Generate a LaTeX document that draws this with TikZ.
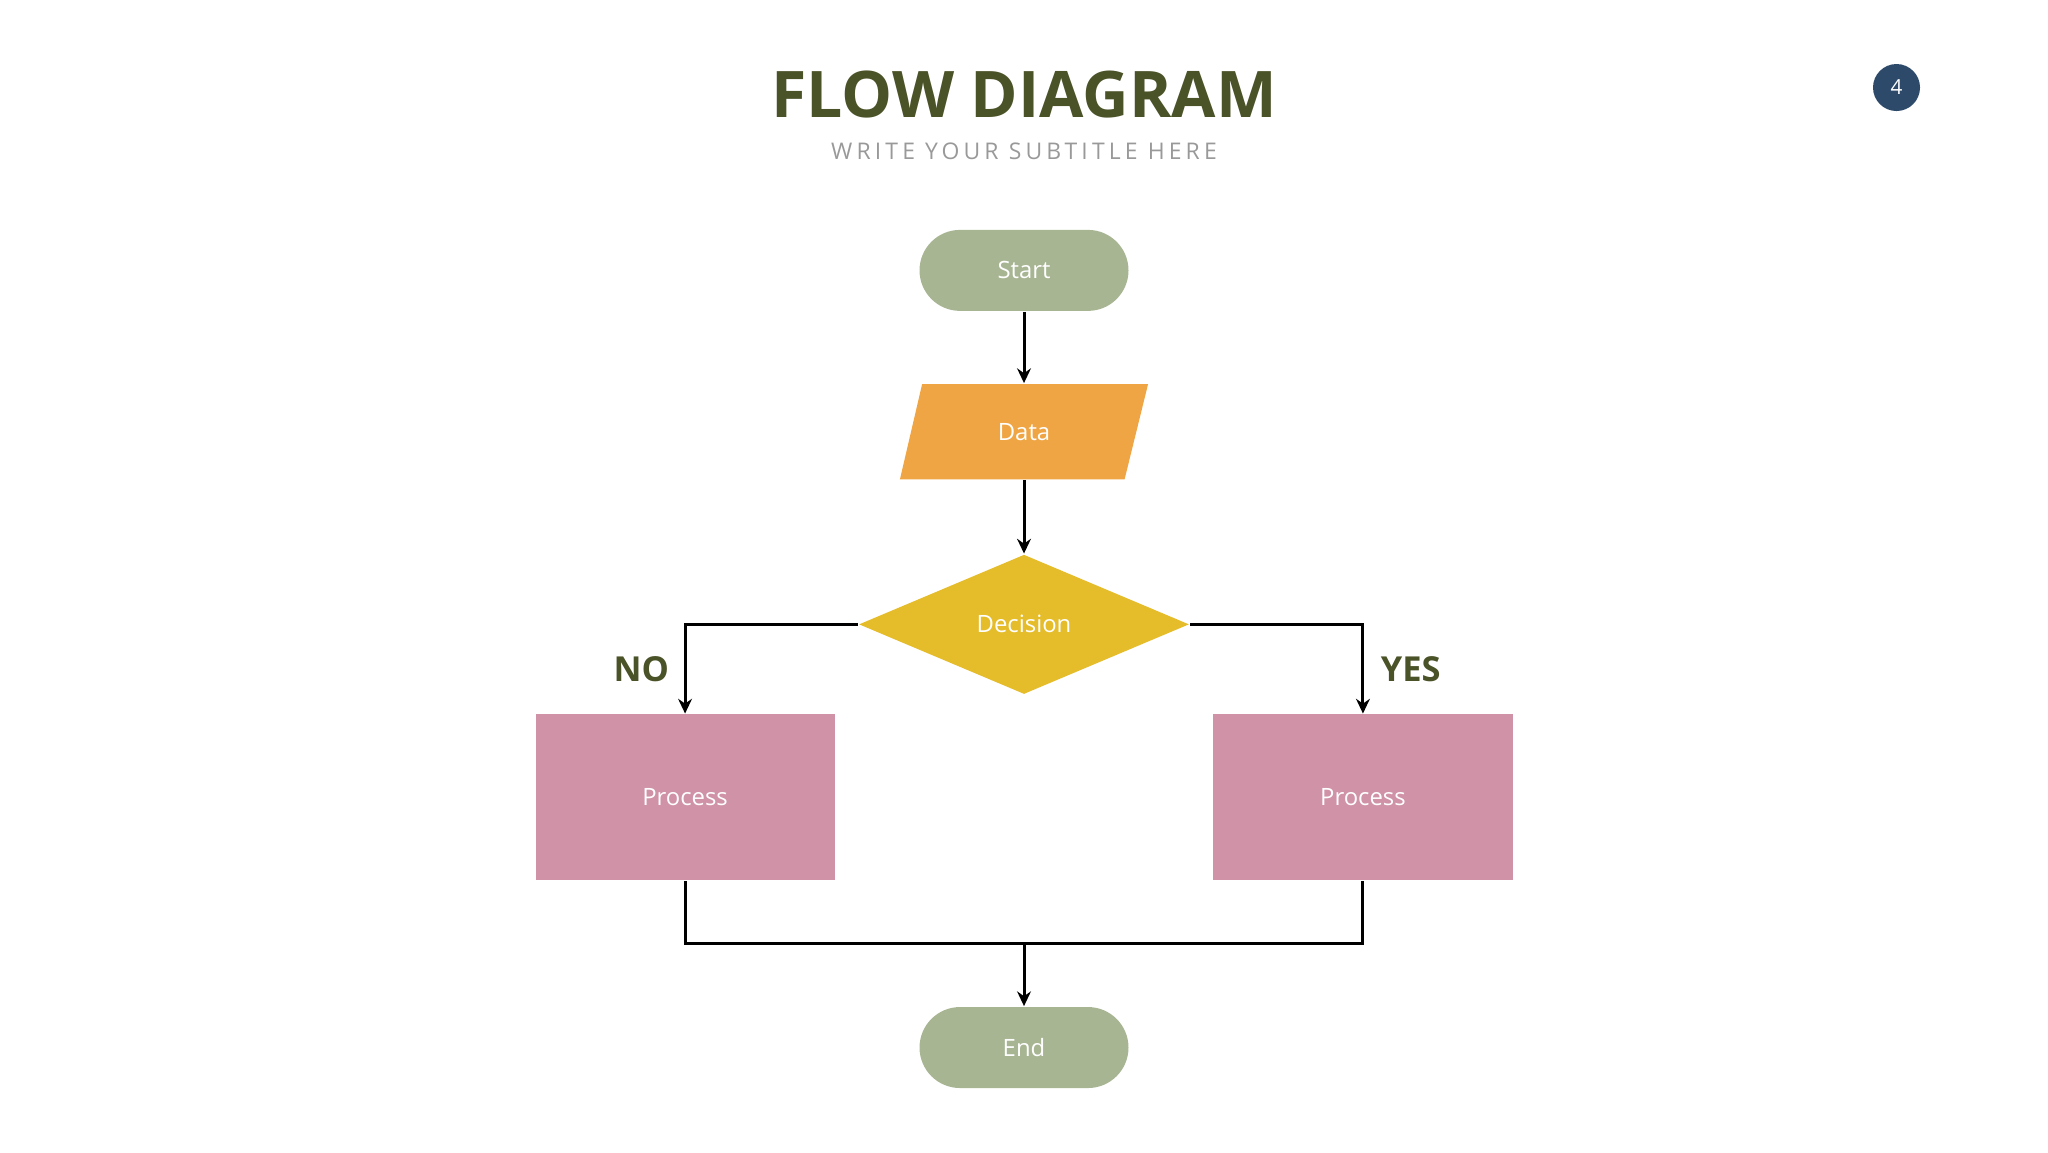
\documentclass[tikz,border=0pt]{standalone}
\usepackage{fontspec}
\setmainfont{Open Sans}
\usetikzlibrary{shapes.geometric,arrows.meta}
\definecolor{olive}{HTML}{4A5228}
\definecolor{sage}{HTML}{A7B592}
\definecolor{orng}{HTML}{F0A545}
\definecolor{gold}{HTML}{E5BC2A}
\definecolor{pink}{HTML}{D092A6}
\definecolor{navy}{HTML}{2E4A6B}
\begin{document}
\begin{tikzpicture}[
  lbl/.style={text=white,font=\fontsize{5.2pt}{6pt}\selectfont},
  term/.style={lbl,fill=sage,rounded corners=0.31cm,minimum width=1.6cm,minimum height=0.62cm,inner sep=0},
  proc/.style={lbl,fill=pink,minimum width=2.29cm,minimum height=1.27cm,inner sep=0},
  conn/.style={line width=0.65pt,-{Stealth[length=3.2pt,width=3pt]}},
  line/.style={line width=0.65pt}]
\useasboundingbox (0,0) rectangle (15.68,-8.82);
\node[font=\fontsize{14pt}{16pt}\selectfont\bfseries,text=olive] (title) at (7.84,-0.72) {FLOW DIAGRAM};
\node[font=\fontsize{5pt}{6pt}\selectfont,text=gray!80,inner sep=0] (sub) at (7.84,-1.16) {\addfontfeature{LetterSpace=18}WRITE YOUR SUBTITLE HERE};
\node[circle,fill=navy,minimum size=0.36cm,inner sep=0,text=white,font=\fontsize{4.5pt}{5pt}\selectfont] (pg) at (14.52,-0.67) {4};
\node[term] (start) at (7.84,-2.07) {Start};
\fill[orng] (7.06,-2.94) -- (8.79,-2.94) -- (8.61,-3.67) -- (6.89,-3.67) -- cycle;
\node[lbl,minimum width=1.73cm,minimum height=0.73cm,inner sep=0] (data) at (7.84,-3.305) {Data};
\node[lbl,diamond,fill=gold,aspect=2.36,minimum width=2.53cm,minimum height=1.07cm,inner sep=0] (dec) at (7.84,-4.78) {Decision};
\node[proc] (pl) at (5.245,-6.105) {Process};
\node[proc] (pr) at (10.435,-6.105) {Process};
\node[term] (end) at (7.84,-8.02) {End};
\coordinate (j) at (7.84,-7.22);
\draw[conn] (start) -- (data);
\draw[conn] (data) -- (dec);
\draw[conn] (dec.west) -| (pl.north);
\draw[conn] (dec.east) -| (pr.north);
\draw[line] (pl.south) |- (j);
\draw[line] (pr.south) |- (j);
\draw[conn] (j) -- (end);
\node[font=\fontsize{7.5pt}{8pt}\selectfont\bfseries,text=olive] (no) at (4.91,-5.12) {NO};
\node[font=\fontsize{7.5pt}{8pt}\selectfont\bfseries,text=olive] (yes) at (10.8,-5.12) {YES};
\end{tikzpicture}
\end{document}
